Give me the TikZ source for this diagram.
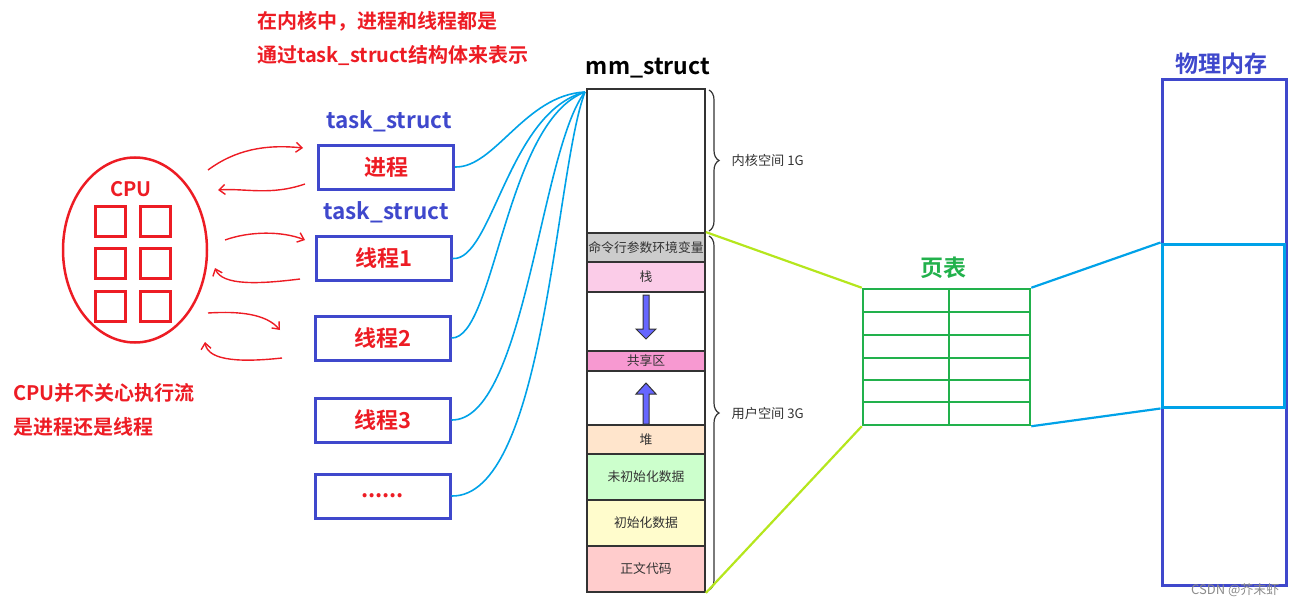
\documentclass[tikz,border=0pt]{standalone}
\usepackage{fontspec}
\setmainfont{Noto Sans CJK SC}[BoldFont={Noto Sans CJK SC Bold}]
\usetikzlibrary{arrows.meta, decorations.pathreplacing, shapes.geometric, positioning}
\definecolor{pred}{HTML}{ED1C24}
\definecolor{pblue}{HTML}{3F48CC}
\definecolor{pcyan}{HTML}{00A2E8}
\definecolor{plime}{HTML}{B5E61D}
\definecolor{pgreen}{HTML}{22B14C}
\definecolor{segline}{HTML}{333333}
\definecolor{arrowfill}{HTML}{6666FF}
\newcommand{\fs}[1]{\fontsize{#1}{#1}\selectfont}

\begin{document}
\begin{tikzpicture}[x=1pt, y=-1pt,
    taskbox/.style={draw=pblue, line width=3, minimum width=135, minimum height=44, inner sep=0, text=pred, font=\fs{22}\bfseries},
    tasklabel/.style={text=pblue, font=\fs{22.5}\bfseries},
    redtext/.style={anchor=west, text=pred, font=\fs{20}\bfseries, inner sep=0},
    core/.style={draw=pred, line width=3, minimum size=30, inner sep=0},
    seg/.style={draw=segline, line width=1.8, minimum width=118, inner sep=0, text=segline, font=\fs{12.8}},
    brc/.style={decorate, decoration={brace, amplitude=10}, segline, line width=1.2},
    spacelabel/.style={anchor=west, text=segline, font=\fs{13.2}, inner sep=0},
    hand/.style={pred, line width=1.4, -{Straight Barb[length=6pt, width=10pt]}},
    link/.style={pcyan, line width=1.6},
    map/.style={plime, line width=2.2},
    title/.style={font=\fs{23}\bfseries},
]
    \useasboundingbox (0,0) rectangle (1300,607);

    % CPU
    \node[ellipse, draw=pred, line width=2.5, minimum width=144, minimum height=185] (cpu) at (135,250) {};
    \node[text=pred, font=\fs{20}\bfseries] (cputxt) at (131,189) {CPU};
    \foreach \r in {0,1,2}
        \foreach \c in {0,1}
            \node[core] (core\r\c) at (110.5+44.5*\c, 221+42.5*\r) {};

    \node[redtext] (note1) at (257,21) {在内核中，进程和线程都是};
    \node[redtext] (note2) at (257,56) {通过task\_struct结构体来表示};
    \node[redtext] (note3) at (13,393) {CPU并不关心执行流};
    \node[redtext] (note4) at (13,427) {是进程还是线程};

    % task_struct
    \node[taskbox] (proc) at (386,167) {进程};
    \node[taskbox] (thr1) at (383.5,258.5) {线程1};
    \node[taskbox] (thr2) at (382.5,338) {线程2};
    \node[taskbox] (thr3) at (382.5,420) {线程3};
    \node[taskbox] (more) at (382.5,496) {......};
    \node[tasklabel] (ts1) at (389,121) {task\_struct};
    \node[tasklabel] (ts2) at (386,212) {task\_struct};

    % red scribbles between CPU and tasks
    \coordinate (a1) at (208,170); \coordinate (b1) at (303,148);
    \coordinate (a2) at (305,184); \coordinate (b2) at (218,190);
    \coordinate (a3) at (225,240); \coordinate (b3) at (305,240);
    \coordinate (a4) at (300,279); \coordinate (b4) at (215,268);
    \coordinate (a5) at (208,313); \coordinate (b5) at (280,330);
    \coordinate (a6) at (282,358); \coordinate (b6) at (205,342);
    \draw[hand] (a1) .. controls (235,150) and (265,144) .. (b1);
    \draw[hand] (a2) .. controls (270,196) and (245,188) .. (b2);
    \draw[hand] (a3) .. controls (250,231) and (282,231) .. (b3);
    \draw[hand] (a4) .. controls (260,284) and (222,286) .. (b4);
    \draw[hand] (a5) .. controls (240,311) and (266,314) .. (b5);
    \draw[hand] (a6) .. controls (245,362) and (208,362) .. (b6);

    % mm_struct
    \node[title] (mmtitle) at (648,68) {mm\_struct};
    \node[seg, minimum height=144] (kern) at (646,161) {};
    \node[seg, minimum height=29, fill=black!20] (cmd) at (646,247.5) {命令行参数环境变量};
    \node[seg, minimum height=30, fill=magenta!20] (stack) at (646,277) {栈};
    \node[seg, minimum height=59] (gapa) at (646,321.5) {};
    \node[seg, minimum height=20, fill=magenta!40] (shared) at (646,361) {共享区};
    \node[seg, minimum height=54] (gapb) at (646,398) {};
    \node[seg, minimum height=29, fill=orange!20] (heap) at (646,439.5) {堆};
    \node[seg, minimum height=46, fill=green!20] (bss) at (646,477) {未初始化数据};
    \node[seg, minimum height=46, fill=yellow!20] (data) at (646,523) {初始化数据};
    \node[seg, minimum height=46, fill=red!20] (code) at (646,569) {正文代码};

    \draw[segline, fill=arrowfill, line width=1] (643,295) -- (649,295) -- (649,329) -- (656,329) -- (646,339) -- (636,329) -- (643,329) -- cycle;
    \draw[segline, fill=arrowfill, line width=1] (643,424) -- (649,424) -- (649,394) -- (656,394) -- (646,383) -- (636,394) -- (643,394) -- cycle;

    \draw[brc] (709,90) -- (709,231) node[spacelabel, midway, xshift=22] (kspace) {内核空间 1G};
    \draw[brc] (709,236) -- (709,590) node[spacelabel, midway, xshift=22] (uspace) {用户空间 3G};

    \coordinate (mmhook) at (585,92);
    \draw[link] (proc.east) .. controls (495,168) and (525,95) .. (mmhook);
    \draw[link] (thr1.east) .. controls (492,262) and (508,112) .. (mmhook);
    \draw[link] (thr2.east) .. controls (495,339) and (505,122) .. (mmhook);
    \draw[link] (thr3.east) .. controls (525,421) and (540,150) .. (mmhook);
    \draw[link] (more.east) .. controls (545,498) and (555,170) .. (mmhook);

    % page table
    \node[draw=pgreen, line width=2.5, minimum width=167, minimum height=136, inner sep=0] (ptab) at (946.5,357) {};
    \foreach \y in {312,335,358,380,402}
        \draw[pgreen, line width=2.5] (863,\y) -- (1030,\y);
    \draw[pgreen, line width=2.5] (ptab.north) ++(2.5,0) -- ++(0,136);
    \node[text=pgreen, font=\fs{23}\bfseries] (pttitle) at (943,268) {页表};

    \draw[map] (cmd.north east) -- (ptab.north west);
    \draw[map] (code.south east) -- (ptab.south west);

    % physical memory
    \node[title, text=pblue] (phystitle) at (1221,64) {物理内存};
    \node[draw=pblue, line width=3, minimum width=124, minimum height=505, inner sep=0] (phys) at (1224,332.5) {};
    \node[draw=pcyan, line width=3, minimum width=122, minimum height=163, inner sep=0] (frame) at (1223,325.5) {};
    \draw[link, line width=2.2] (ptab.north east) -- (frame.north west);
    \draw[link, line width=2.2] (ptab.south east) -- (frame.south west);

    \node[anchor=east, text=black!45, font=\fs{13}] (mark) at (1283,590) {CSDN @芥末虾};
\end{tikzpicture}
\end{document}
